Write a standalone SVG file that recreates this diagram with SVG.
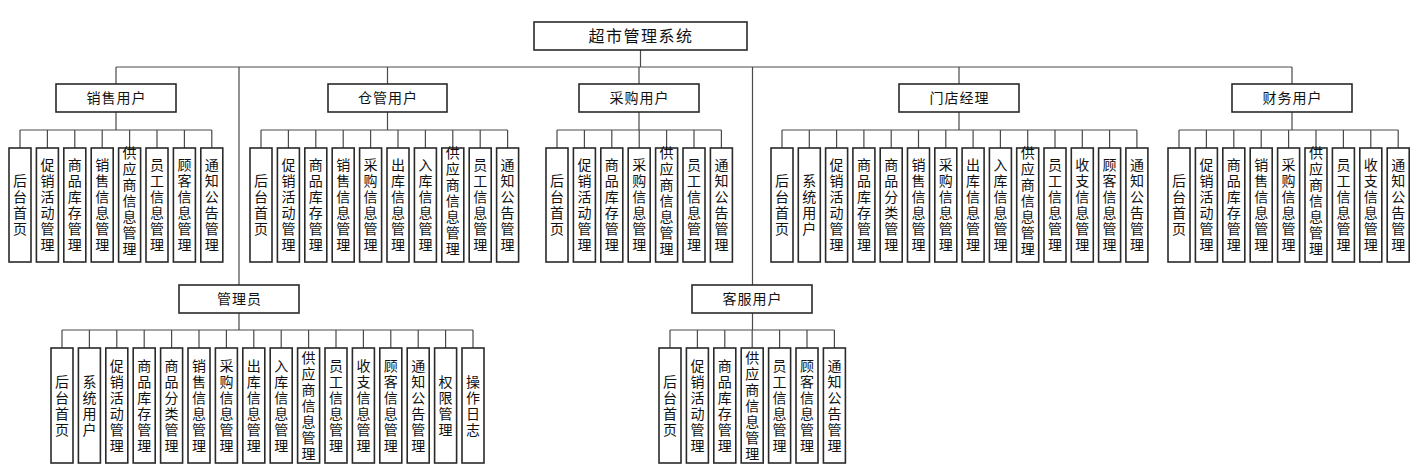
<svg xmlns="http://www.w3.org/2000/svg" width="1418" height="474" viewBox="0 0 1418 474">
<style>
rect{fill:#fff;stroke:#2a2a2a;stroke-width:1.6}
.c path{fill:none;stroke:#4a4a4a;stroke-width:1.2}
text{font-family:"Noto Sans CJK SC","Noto Sans",sans-serif;fill:#111}
.r{font-size:16px;letter-spacing:1.5px;text-anchor:middle}
.m{font-size:14px;letter-spacing:1px;text-anchor:middle}
.v{font-size:14px;letter-spacing:2px;writing-mode:vertical-rl;text-anchor:middle}
</style>
<rect x="0" y="0" width="1418" height="474" style="stroke:none"/>
<g class="c" id="connectors">
<path d="M640.5 50V67M116 67H1292M116 67V84M387.5 67V84M639 67V84M959 67V84M1292 67V84M239 67V285M752.5 67V285"/>
<path d="M116 112V130M20 130H211.8M20 130V148M47.4 130V148M74.8 130V148M102.2 130V148M129.6 130V148M157 130V148M184.4 130V148M211.8 130V148"/>
<path d="M387.5 112V130M261 130H507.6M261 130V148M288.4 130V148M315.8 130V148M343.2 130V148M370.6 130V148M398 130V148M425.4 130V148M452.8 130V148M480.2 130V148M507.6 130V148"/>
<path d="M639 112V130M557 130H721.4M557 130V148M584.4 130V148M611.8 130V148M639.2 130V148M666.6 130V148M694 130V148M721.4 130V148"/>
<path d="M959 112V130M782 130H1136.9M782 130V148M809.3 130V148M836.6 130V148M863.9 130V148M891.2 130V148M918.5 130V148M945.8 130V148M973.1 130V148M1000.4 130V148M1027.7 130V148M1055 130V148M1082.3 130V148M1109.6 130V148M1136.9 130V148"/>
<path d="M1292 112V130M1179 130H1398.2M1179 130V148M1206.4 130V148M1233.8 130V148M1261.2 130V148M1288.6 130V148M1316 130V148M1343.4 130V148M1370.8 130V148M1398.2 130V148"/>
<path d="M239 313V330M62 330H473M62 330V348M89.4 330V348M116.8 330V348M144.2 330V348M171.6 330V348M199 330V348M226.4 330V348M253.8 330V348M281.2 330V348M308.6 330V348M336 330V348M363.4 330V348M390.8 330V348M418.2 330V348M445.6 330V348M473 330V348"/>
<path d="M752.5 313V330M670 330H834.4M670 330V348M697.4 330V348M724.8 330V348M752.2 330V348M779.6 330V348M807 330V348M834.4 330V348"/>
</g>
<g id="root"><rect x="534" y="22" width="213" height="28"/><text class="r" x="641" y="42">超市管理系统</text></g>
<g id="sales"><rect x="56" y="84" width="120" height="28"/><text class="m" x="116.5" y="103">销售用户</text></g>
<g id="warehouse"><rect x="328" y="84" width="119" height="28"/><text class="m" x="388" y="103">仓管用户</text></g>
<g id="purchase"><rect x="579" y="84" width="120" height="28"/><text class="m" x="639.5" y="103">采购用户</text></g>
<g id="manager"><rect x="899" y="84" width="120" height="28"/><text class="m" x="959.5" y="103">门店经理</text></g>
<g id="finance"><rect x="1232" y="84" width="120" height="28"/><text class="m" x="1292.5" y="103">财务用户</text></g>
<g id="admin"><rect x="179" y="285" width="120" height="28"/><text class="m" x="239.5" y="304">管理员</text></g>
<g id="service"><rect x="692" y="285" width="120" height="28"/><text class="m" x="752.5" y="304">客服用户</text></g>

<g id="sales-leaves">
<g id="s1"><rect x="9" y="148" width="22" height="114"/><text class="v" x="20" y="206">后台首页</text></g>
<g id="s2"><rect x="36.4" y="148" width="22" height="114"/><text class="v" x="47.4" y="206">促销活动管理</text></g>
<g id="s3"><rect x="63.8" y="148" width="22" height="114"/><text class="v" x="74.8" y="206">商品库存管理</text></g>
<g id="s4"><rect x="91.2" y="148" width="22" height="114"/><text class="v" x="102.2" y="206">销售信息管理</text></g>
<g id="s5"><rect x="118.6" y="148" width="22" height="114"/><text class="v" x="129.6" y="202">供应商信息管理</text></g>
<g id="s6"><rect x="146" y="148" width="22" height="114"/><text class="v" x="157" y="206">员工信息管理</text></g>
<g id="s7"><rect x="173.4" y="148" width="22" height="114"/><text class="v" x="184.4" y="206">顾客信息管理</text></g>
<g id="s8"><rect x="200.8" y="148" width="22" height="114"/><text class="v" x="211.8" y="206">通知公告管理</text></g>
</g>

<g id="warehouse-leaves">
<g id="w1"><rect x="250" y="148" width="22" height="114"/><text class="v" x="261" y="206">后台首页</text></g>
<g id="w2"><rect x="277.4" y="148" width="22" height="114"/><text class="v" x="288.4" y="206">促销活动管理</text></g>
<g id="w3"><rect x="304.8" y="148" width="22" height="114"/><text class="v" x="315.8" y="206">商品库存管理</text></g>
<g id="w4"><rect x="332.2" y="148" width="22" height="114"/><text class="v" x="343.2" y="206">销售信息管理</text></g>
<g id="w5"><rect x="359.6" y="148" width="22" height="114"/><text class="v" x="370.6" y="206">采购信息管理</text></g>
<g id="w6"><rect x="387" y="148" width="22" height="114"/><text class="v" x="398" y="206">出库信息管理</text></g>
<g id="w7"><rect x="414.4" y="148" width="22" height="114"/><text class="v" x="425.4" y="206">入库信息管理</text></g>
<g id="w8"><rect x="441.8" y="148" width="22" height="114"/><text class="v" x="452.8" y="202">供应商信息管理</text></g>
<g id="w9"><rect x="469.2" y="148" width="22" height="114"/><text class="v" x="480.2" y="206">员工信息管理</text></g>
<g id="w10"><rect x="496.6" y="148" width="22" height="114"/><text class="v" x="507.6" y="206">通知公告管理</text></g>
</g>

<g id="purchase-leaves">
<g id="p1"><rect x="546" y="148" width="22" height="114"/><text class="v" x="557" y="206">后台首页</text></g>
<g id="p2"><rect x="573.4" y="148" width="22" height="114"/><text class="v" x="584.4" y="206">促销活动管理</text></g>
<g id="p3"><rect x="600.8" y="148" width="22" height="114"/><text class="v" x="611.8" y="206">商品库存管理</text></g>
<g id="p4"><rect x="628.2" y="148" width="22" height="114"/><text class="v" x="639.2" y="206">采购信息管理</text></g>
<g id="p5"><rect x="655.6" y="148" width="22" height="114"/><text class="v" x="666.6" y="202">供应商信息管理</text></g>
<g id="p6"><rect x="683" y="148" width="22" height="114"/><text class="v" x="694" y="206">员工信息管理</text></g>
<g id="p7"><rect x="710.4" y="148" width="22" height="114"/><text class="v" x="721.4" y="206">通知公告管理</text></g>
</g>

<g id="manager-leaves">
<g id="g1"><rect x="771" y="148" width="22" height="114"/><text class="v" x="782" y="206">后台首页</text></g>
<g id="g2"><rect x="798.3" y="148" width="22" height="114"/><text class="v" x="809.3" y="206">系统用户</text></g>
<g id="g3"><rect x="825.6" y="148" width="22" height="114"/><text class="v" x="836.6" y="206">促销活动管理</text></g>
<g id="g4"><rect x="852.9" y="148" width="22" height="114"/><text class="v" x="863.9" y="206">商品库存管理</text></g>
<g id="g5"><rect x="880.2" y="148" width="22" height="114"/><text class="v" x="891.2" y="206">商品分类管理</text></g>
<g id="g6"><rect x="907.5" y="148" width="22" height="114"/><text class="v" x="918.5" y="206">销售信息管理</text></g>
<g id="g7"><rect x="934.8" y="148" width="22" height="114"/><text class="v" x="945.8" y="206">采购信息管理</text></g>
<g id="g8"><rect x="962.1" y="148" width="22" height="114"/><text class="v" x="973.1" y="206">出库信息管理</text></g>
<g id="g9"><rect x="989.4" y="148" width="22" height="114"/><text class="v" x="1000.4" y="206">入库信息管理</text></g>
<g id="g10"><rect x="1016.7" y="148" width="22" height="114"/><text class="v" x="1027.7" y="202">供应商信息管理</text></g>
<g id="g11"><rect x="1044" y="148" width="22" height="114"/><text class="v" x="1055" y="206">员工信息管理</text></g>
<g id="g12"><rect x="1071.3" y="148" width="22" height="114"/><text class="v" x="1082.3" y="206">收支信息管理</text></g>
<g id="g13"><rect x="1098.6" y="148" width="22" height="114"/><text class="v" x="1109.6" y="206">顾客信息管理</text></g>
<g id="g14"><rect x="1125.9" y="148" width="22" height="114"/><text class="v" x="1136.9" y="206">通知公告管理</text></g>
</g>

<g id="finance-leaves">
<g id="f1"><rect x="1168" y="148" width="22" height="114"/><text class="v" x="1179" y="206">后台首页</text></g>
<g id="f2"><rect x="1195.4" y="148" width="22" height="114"/><text class="v" x="1206.4" y="206">促销活动管理</text></g>
<g id="f3"><rect x="1222.8" y="148" width="22" height="114"/><text class="v" x="1233.8" y="206">商品库存管理</text></g>
<g id="f4"><rect x="1250.2" y="148" width="22" height="114"/><text class="v" x="1261.2" y="206">销售信息管理</text></g>
<g id="f5"><rect x="1277.6" y="148" width="22" height="114"/><text class="v" x="1288.6" y="206">采购信息管理</text></g>
<g id="f6"><rect x="1305" y="148" width="22" height="114"/><text class="v" x="1316" y="202">供应商信息管理</text></g>
<g id="f7"><rect x="1332.4" y="148" width="22" height="114"/><text class="v" x="1343.4" y="206">员工信息管理</text></g>
<g id="f8"><rect x="1359.8" y="148" width="22" height="114"/><text class="v" x="1370.8" y="206">收支信息管理</text></g>
<g id="f9"><rect x="1387.2" y="148" width="22" height="114"/><text class="v" x="1398.2" y="206">通知公告管理</text></g>
</g>

<g id="admin-leaves">
<g id="a1"><rect x="51" y="348" width="22" height="115"/><text class="v" x="62" y="406.5">后台首页</text></g>
<g id="a2"><rect x="78.4" y="348" width="22" height="115"/><text class="v" x="89.4" y="406.5">系统用户</text></g>
<g id="a3"><rect x="105.8" y="348" width="22" height="115"/><text class="v" x="116.8" y="406.5">促销活动管理</text></g>
<g id="a4"><rect x="133.2" y="348" width="22" height="115"/><text class="v" x="144.2" y="406.5">商品库存管理</text></g>
<g id="a5"><rect x="160.6" y="348" width="22" height="115"/><text class="v" x="171.6" y="406.5">商品分类管理</text></g>
<g id="a6"><rect x="188" y="348" width="22" height="115"/><text class="v" x="199" y="406.5">销售信息管理</text></g>
<g id="a7"><rect x="215.4" y="348" width="22" height="115"/><text class="v" x="226.4" y="406.5">采购信息管理</text></g>
<g id="a8"><rect x="242.8" y="348" width="22" height="115"/><text class="v" x="253.8" y="406.5">出库信息管理</text></g>
<g id="a9"><rect x="270.2" y="348" width="22" height="115"/><text class="v" x="281.2" y="406.5">入库信息管理</text></g>
<g id="a10"><rect x="297.6" y="348" width="22" height="115"/><text class="v" x="308.6" y="406.5">供应商信息管理</text></g>
<g id="a11"><rect x="325" y="348" width="22" height="115"/><text class="v" x="336" y="406.5">员工信息管理</text></g>
<g id="a12"><rect x="352.4" y="348" width="22" height="115"/><text class="v" x="363.4" y="406.5">收支信息管理</text></g>
<g id="a13"><rect x="379.8" y="348" width="22" height="115"/><text class="v" x="390.8" y="406.5">顾客信息管理</text></g>
<g id="a14"><rect x="407.2" y="348" width="22" height="115"/><text class="v" x="418.2" y="406.5">通知公告管理</text></g>
<g id="a15"><rect x="434.6" y="348" width="22" height="115"/><text class="v" x="445.6" y="406.5">权限管理</text></g>
<g id="a16"><rect x="462" y="348" width="22" height="115"/><text class="v" x="473" y="406.5">操作日志</text></g>
</g>

<g id="service-leaves">
<g id="k1"><rect x="659" y="348" width="22" height="115"/><text class="v" x="670" y="406.5">后台首页</text></g>
<g id="k2"><rect x="686.4" y="348" width="22" height="115"/><text class="v" x="697.4" y="406.5">促销活动管理</text></g>
<g id="k3"><rect x="713.8" y="348" width="22" height="115"/><text class="v" x="724.8" y="406.5">商品库存管理</text></g>
<g id="k4"><rect x="741.2" y="348" width="22" height="115"/><text class="v" x="752.2" y="406.5">供应商信息管理</text></g>
<g id="k5"><rect x="768.6" y="348" width="22" height="115"/><text class="v" x="779.6" y="406.5">员工信息管理</text></g>
<g id="k6"><rect x="796" y="348" width="22" height="115"/><text class="v" x="807" y="406.5">顾客信息管理</text></g>
<g id="k7"><rect x="823.4" y="348" width="22" height="115"/><text class="v" x="834.4" y="406.5">通知公告管理</text></g>
</g>
</svg>
